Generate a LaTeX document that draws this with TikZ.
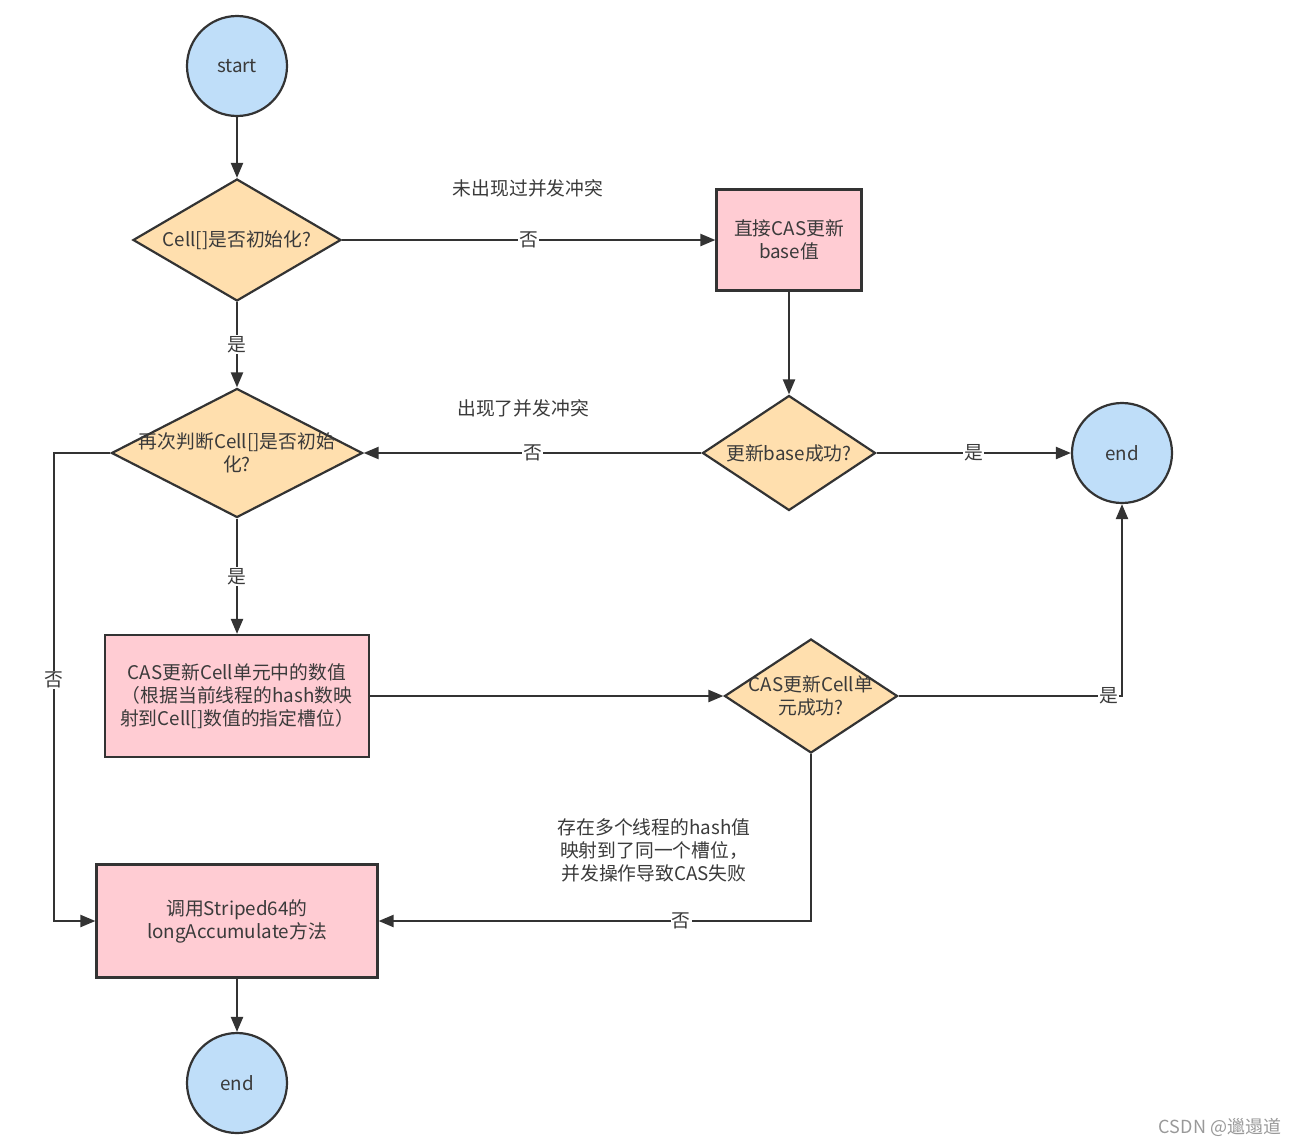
\documentclass[tikz,border=0pt]{standalone}
\usepackage{fontspec}
\setmainfont{Noto Sans CJK SC}
\usetikzlibrary{arrows.meta,shapes.geometric}
\definecolor{lc}{HTML}{333333}
\definecolor{txt}{HTML}{3A3A3A}
\definecolor{termc}{HTML}{BFDEF9}
\definecolor{decc}{HTML}{FFDFAE}
\definecolor{procc}{HTML}{FFCCD3}
\begin{document}
\begin{tikzpicture}[x=1pt,y=-1pt,
  every node/.style={font=\fontsize{18.8}{23}\selectfont, text=txt},
  term/.style={circle,draw=lc,line width=2.2pt,fill=termc,minimum size=100pt,inner sep=0pt},
  dec/.style={diamond,draw=lc,line width=2.2pt,fill=decc,inner sep=0pt},
  proc/.style={rectangle,draw=lc,line width=2.2pt,fill=procc,align=center,inner sep=0pt},
  conn/.style={draw=lc,line width=2.2pt,-{Triangle[length=15pt,width=12pt]}},
  elab/.style={fill=white,inner sep=1pt},
  note/.style={align=center,inner sep=0pt}
]
\useasboundingbox (0,0) rectangle (1301,1146);
\node[term] (start) at (237,66) {start};
\node[dec,minimum width=208pt,minimum height=122pt,label={[align=center]center:Cell[]是否初始化?}] (d1) at (237,240) {};
\node[proc,minimum width=145pt,minimum height=101pt] (b1) at (789,240) {直接CAS更新\\base值};
\node[dec,minimum width=251pt,minimum height=129pt,label={[align=center]center:再次判断Cell[]是否初始\\化?}] (d2) at (237,453) {};
\node[dec,minimum width=173pt,minimum height=115pt,label={[align=center]center:更新base成功?}] (d3) at (789,453) {};
\node[term] (endR) at (1122,453) {end};
\node[proc,minimum width=264pt,minimum height=122pt] (b2) at (237,696) {CAS更新Cell单元中的数值\\（根据当前线程的hash数映\\射到Cell[]数值的指定槽位）};
\node[dec,minimum width=173pt,minimum height=114pt,label={[align=center]center:CAS更新Cell单\\元成功?}] (d4) at (811,696) {};
\node[proc,minimum width=281pt,minimum height=113pt] (b3) at (237,921) {调用Striped64的\\longAccumulate方法};
\node[term] (endB) at (237,1083) {end};

\node[note] (n1) at (528,188) {未出现过并发冲突};
\node[note] (n2) at (523,408) {出现了并发冲突};
\node[note] (n3) at (654,850) {存在多个线程的hash值\\映射到了同一个槽位，\\并发操作导致CAS失败};
\node[note,text=gray!80,font=\fontsize{18}{22}\selectfont] (wm) at (1220,1127) {CSDN @邋遢道};

\coordinate (cL1) at (54,453);
\coordinate (cL2) at (54,921);

\draw[conn] (start) -- (d1);
\draw[conn] (d1) -- node[elab]{否} (b1);
\draw[conn] (b1) -- (d3);
\draw[conn] (d1) -- node[elab]{是} (d2);
\draw[conn] (d3) -- node[elab]{否} (d2);
\draw[conn] (d3) -- node[elab]{是} (endR);
\draw[conn] (d2) -- node[elab]{是} (b2);
\draw[conn] (d2.west) -- (cL1) -- node[elab,pos=0.485]{否} (cL2) -- (b3.west);
\draw[conn] (b2) -- (d4);
\draw[conn] (d4.east) -| node[elab,pos=0.47]{是} (endR.south);
\draw[conn] (d4.south) |- node[elab,pos=0.65]{否} (b3.east);
\draw[conn] (b3) -- (endB);
\end{tikzpicture}
\end{document}
